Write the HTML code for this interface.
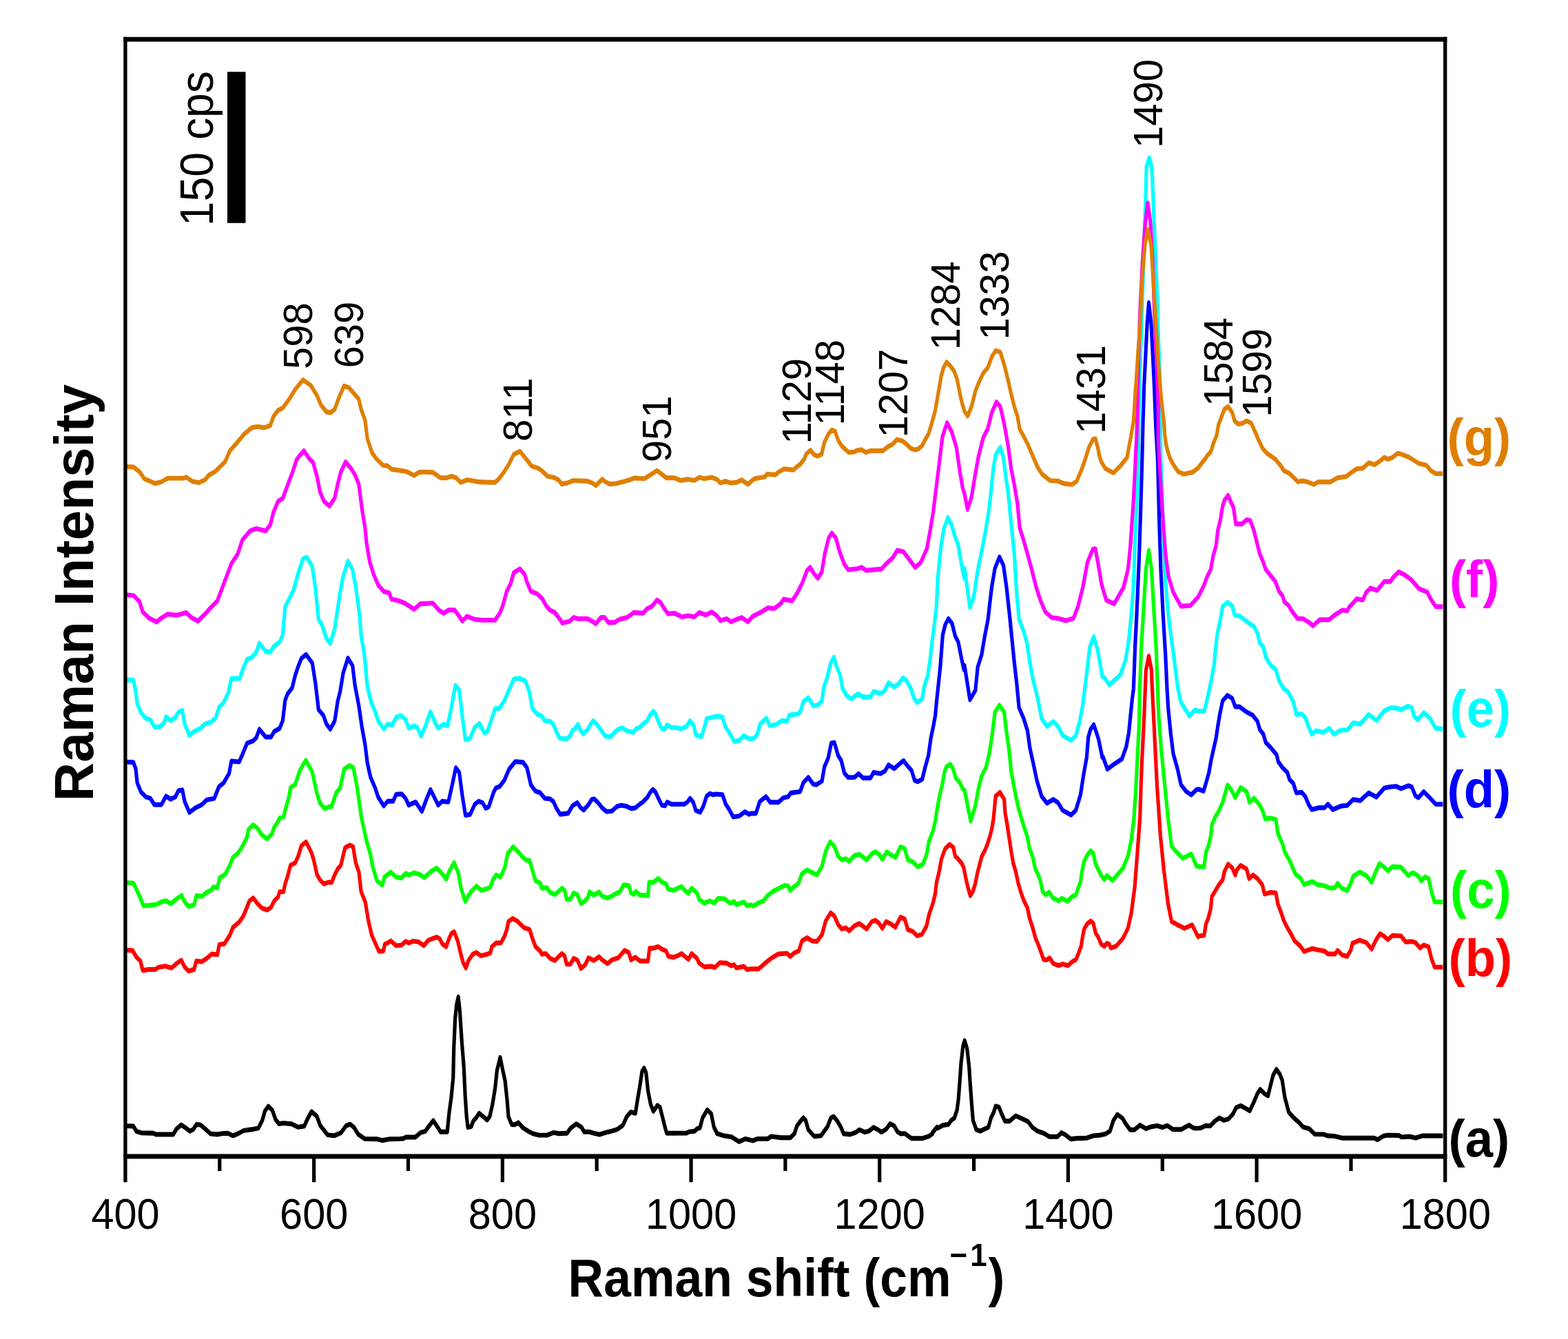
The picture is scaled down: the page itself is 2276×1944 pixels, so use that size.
<!DOCTYPE html><html><head><meta charset="utf-8"><style>html,body{margin:0;padding:0;background:#fff;}svg{display:block;}text{font-family:"Liberation Sans",Arial,sans-serif;}</style></head><body>
<svg width="2276" height="1944" viewBox="0 0 2276 1944">
<rect width="2276" height="1944" fill="#fff"/>
<g transform="scale(1,1.33)" fill="none" stroke-width="5.2" stroke-linejoin="round" stroke-linecap="butt">
<path d="M182.3,1229.02 L193.5,1229.32 L198.3,1235.11 L205.1,1236.62 L222.5,1237.07 L226.3,1238.35 L251.4,1238.35 L256.3,1232.26 L263.0,1227.89 L268.8,1230.83 L275.6,1234.74 L280.4,1232.93 L285.2,1227.44 L291.0,1227.89 L297.8,1232.26 L305.5,1237.59 L315.1,1238.35 L322.9,1237.29 L330.6,1237.07 L338.3,1239.77 L346.0,1237.29 L353.7,1234.14 L365.3,1232.93 L375.0,1231.50 L380.8,1222.78 L384.6,1212.63 L389.5,1207.59 L395.3,1211.95 L400.1,1222.11 L404.9,1226.69 L411.7,1226.02 L423.2,1226.84 L432.9,1230.38 L441.6,1229.32 L446.4,1221.35 L452.2,1213.38 L459.9,1218.42 L464.8,1228.65 L475.4,1238.80 L485.0,1239.77 L494.7,1236.62 L502.4,1228.87 L508.2,1227.14 L514.0,1230.83 L519.8,1238.05 L529.4,1243.16 L546.8,1243.38 L554.5,1244.89 L566.1,1243.38 L580.0,1243.16 L585.4,1242.86 L589.3,1241.35 L602.8,1241.35 L610.5,1236.32 L617.3,1234.89 L622.1,1229.77 L628.9,1223.23 L634.7,1229.77 L639.5,1235.56 L649.2,1235.56 L652.0,1214.51 L654.9,1198.57 L657.8,1176.77 L658.8,1143.38 L660.7,1111.50 L662.7,1096.99 L665.2,1088.27 L667.5,1104.21 L670.4,1137.59 L673.3,1165.19 L675.2,1195.64 L677.1,1217.44 L679.1,1230.53 L683.9,1229.77 L686.8,1223.98 L691.6,1219.62 L695.5,1215.26 L701.3,1218.87 L707.1,1222.56 L710.9,1218.87 L714.8,1205.79 L718.6,1188.42 L721.5,1168.12 L726.0,1154.29 L729.3,1166.62 L733.1,1179.70 L736.0,1200.00 L738.0,1218.87 L742.8,1227.59 L747.6,1227.59 L752.4,1225.41 L759.2,1231.20 L766.9,1234.89 L774.6,1237.74 L782.4,1239.17 L793.9,1239.17 L803.6,1236.32 L811.3,1237.44 L822.9,1236.99 L828.7,1231.20 L836.4,1226.84 L844.1,1230.53 L848.0,1235.56 L855.7,1235.56 L861.5,1236.99 L870.2,1238.50 L878.9,1236.32 L890.5,1234.14 L896.2,1232.71 L904.0,1228.35 L909.8,1218.87 L915.6,1213.83 L922.3,1215.26 L925.2,1201.43 L929.1,1184.06 L932.0,1169.55 L934.9,1165.94 L937.8,1170.98 L940.7,1191.28 L944.5,1205.79 L948.4,1213.08 L954.2,1206.54 L958.0,1208.72 L961.9,1220.30 L965.8,1231.95 L967.7,1236.84 L968.6,1236.99 L996.7,1236.84 L1000.5,1235.41 L1008.3,1234.74 L1012.1,1232.11 L1016.0,1231.05 L1019.8,1220.23 L1026.6,1211.50 L1032.4,1215.86 L1036.3,1230.38 L1041.1,1237.59 L1050.7,1239.77 L1062.3,1241.20 L1072.9,1246.32 L1081.6,1243.16 L1093.2,1245.19 L1099.0,1243.16 L1114.4,1243.16 L1119.3,1240.53 L1133.7,1241.95 L1147.3,1241.95 L1153.1,1237.59 L1156.9,1228.87 L1162.7,1223.08 L1166.2,1220.23 L1169.5,1223.08 L1173.3,1233.23 L1182.0,1240.53 L1191.7,1239.77 L1201.3,1229.62 L1206.1,1220.23 L1210.0,1218.72 L1214.8,1223.08 L1220.6,1230.38 L1224.5,1237.59 L1234.1,1238.35 L1241.9,1236.17 L1247.6,1233.23 L1255.4,1235.86 L1261.2,1234.74 L1267.9,1230.68 L1274.7,1233.23 L1279.5,1235.86 L1286.3,1232.56 L1292.0,1226.69 L1297.8,1228.87 L1302.7,1235.41 L1307.5,1237.59 L1313.3,1237.29 L1322.9,1242.71 L1338.4,1242.71 L1347.7,1240.53 L1348.0,1240.53 L1353.5,1237.59 L1353.8,1236.17 L1360.0,1230.38 L1361.2,1231.50 L1369.0,1228.20 L1376.7,1227.44 L1380.5,1223.08 L1385.4,1220.23 L1389.2,1211.50 L1391.2,1199.85 L1393.1,1180.98 L1395.0,1160.68 L1397.9,1141.80 L1400.2,1136.02 L1403.7,1144.74 L1406.6,1163.61 L1408.5,1185.34 L1410.5,1205.71 L1412.4,1223.08 L1417.2,1233.23 L1423.0,1234.74 L1428.8,1232.56 L1434.6,1230.68 L1438.5,1220.23 L1442.3,1214.36 L1445.2,1207.44 L1450.0,1208.57 L1453.9,1215.86 L1458.7,1223.83 L1465.5,1223.83 L1474.2,1218.05 L1482.9,1220.90 L1492.5,1224.51 L1498.3,1230.38 L1506.0,1234.74 L1515.7,1237.29 L1523.4,1240.83 L1535.0,1240.83 L1540.8,1236.47 L1546.6,1238.80 L1554.3,1243.38 L1562.0,1242.71 L1577.5,1242.26 L1587.1,1239.77 L1596.8,1239.10 L1604.5,1237.89 L1611.2,1234.74 L1616.1,1223.08 L1621.9,1216.54 L1629.6,1220.90 L1633.4,1226.02 L1640.2,1233.23 L1646.9,1233.23 L1654.7,1228.20 L1663.4,1232.11 L1670.1,1230.08 L1679.8,1228.87 L1687.5,1230.68 L1694.2,1228.65 L1702.9,1232.93 L1714.5,1232.93 L1720.3,1230.38 L1726.1,1228.20 L1726.6,1228.57 L1731.9,1231.05 L1735.1,1231.65 L1740.0,1231.50 L1742.6,1231.35 L1750.1,1228.80 L1756.7,1229.10 L1763.3,1223.91 L1769.9,1220.30 L1776.5,1222.86 L1783.1,1221.50 L1789.6,1216.09 L1794.3,1209.02 L1800.9,1206.92 L1807.5,1209.70 L1814.1,1212.56 L1819.8,1203.38 L1825.4,1193.46 L1829.2,1189.17 L1834.8,1193.46 L1840.5,1196.24 L1844.2,1184.96 L1848.0,1173.61 L1852.7,1167.29 L1857.4,1172.18 L1861.2,1179.32 L1864.9,1197.67 L1870.6,1213.98 L1878.1,1220.30 L1885.6,1225.26 L1891.3,1230.23 L1900.7,1232.33 L1908.2,1238.05 L1921.4,1238.27 L1927.0,1239.85 L1936.5,1240.15 L1947.7,1242.26 L1994.8,1242.26 L1999.5,1244.14 L2008.0,1240.15 L2013.6,1239.17 L2030.6,1239.47 L2034.3,1241.28 L2045.6,1240.60 L2055.0,1242.26 L2064.4,1239.85 L2094.5,1239.85" stroke="#000000"/>
<path d="M182.3,1037.07 L192.4,1037.59 L198.0,1044.74 L203.7,1048.95 L207.1,1059.17 L216.1,1058.27 L225.2,1058.27 L230.8,1055.71 L239.9,1054.59 L248.9,1056.62 L256.8,1051.50 L263.1,1048.12 L268.1,1055.71 L273.7,1060.00 L281.7,1058.27 L285.0,1048.95 L293.0,1049.77 L299.7,1046.39 L307.6,1041.35 L315.5,1042.18 L318.3,1031.13 L325.7,1030.30 L333.6,1020.90 L338.1,1012.41 L347.2,1006.47 L352.8,1000.53 L358.5,990.38 L361.9,983.53 L367.5,980.15 L374.3,986.92 L379.9,991.20 L387.8,993.38 L393.5,990.38 L398.0,983.53 L403.6,979.32 L405.9,973.38 L411.5,973.38 L413.8,964.89 L417.2,957.22 L421.7,944.51 L428.5,941.95 L433.0,934.29 L437.5,923.23 L444.3,919.02 L452.2,930.90 L455.6,939.40 L460.1,954.66 L464.6,960.60 L470.0,964.89 L476.2,963.16 L481.6,963.16 L485.4,955.64 L490.1,948.65 L494.7,944.59 L498.6,932.41 L500.9,925.41 L507.8,922.56 L512.5,924.29 L516.3,941.65 L521.0,952.11 L524.1,973.01 L530.2,984.66 L534.9,1005.56 L539.5,1020.68 L545.7,1031.13 L550.3,1038.65 L556.5,1038.05 L558.8,1030.53 L562.7,1029.32 L567.3,1027.07 L575.0,1032.26 L582.7,1031.65 L588.9,1027.59 L593.6,1029.32 L599.7,1027.37 L607.5,1028.20 L615.2,1032.26 L621.4,1026.47 L627.5,1024.74 L633.7,1022.93 L638.3,1024.74 L642.2,1030.53 L647.6,1033.38 L651.5,1025.26 L655.3,1018.87 L659.2,1017.14 L664.6,1027.59 L668.5,1040.38 L672.3,1050.83 L676.2,1056.62 L680.0,1048.50 L686.2,1041.58 L691.6,1039.77 L697.8,1043.31 L704.7,1042.11 L711.7,1040.38 L714.0,1033.38 L720.2,1029.32 L727.1,1029.32 L732.5,1021.80 L735.6,1014.81 L738.0,1006.09 L744.1,1002.63 L751.1,1005.56 L760.3,1012.48 L768.8,1014.81 L772.7,1024.14 L777.3,1033.38 L784.6,1038.65 L786.2,1041.50 L792.4,1040.90 L798.5,1046.17 L805.5,1048.50 L810.9,1044.44 L815.5,1040.90 L819.4,1043.23 L822.5,1052.56 L827.9,1052.56 L832.5,1046.17 L837.9,1047.89 L843.3,1057.22 L849.5,1053.16 L854.1,1045.56 L861.9,1048.50 L869.6,1044.44 L874.2,1047.89 L881.9,1051.95 L888.1,1047.89 L897.4,1045.56 L906.6,1037.44 L912.8,1039.77 L915.9,1047.89 L922.1,1044.96 L929.0,1049.10 L940.6,1049.10 L942.9,1035.11 L948.3,1035.11 L955.3,1033.38 L961.5,1036.32 L966.9,1038.05 L970.0,1043.83 L977.7,1044.96 L983.9,1043.23 L989.3,1040.90 L993.9,1043.83 L999.3,1047.29 L1003.9,1040.90 L1011.7,1046.17 L1014.8,1051.35 L1022.5,1055.41 L1031.7,1054.89 L1037.9,1056.02 L1044.9,1050.83 L1054.9,1051.35 L1061.1,1054.29 L1065.7,1053.16 L1068.8,1056.62 L1079.6,1054.89 L1084.2,1058.35 L1090.0,1057.67 L1100.8,1057.67 L1106.3,1054.29 L1113.5,1049.47 L1120.7,1045.41 L1129.8,1041.35 L1142.4,1040.68 L1147.0,1044.06 L1153.3,1040.00 L1159.6,1037.97 L1164.1,1027.07 L1171.4,1023.68 L1178.6,1027.07 L1185.8,1027.74 L1193.1,1020.30 L1198.5,1005.34 L1205.7,996.47 L1211.1,999.85 L1216.6,1009.40 L1222.0,1014.14 L1227.4,1012.78 L1232.8,1016.17 L1240.1,1010.75 L1247.3,1008.05 L1258.1,1014.14 L1265.4,1006.02 L1270.8,1004.66 L1276.2,1008.05 L1280.7,1013.46 L1286.2,1006.02 L1293.4,1008.72 L1299.7,1012.11 L1307.0,1001.20 L1313.3,1003.31 L1317.8,1014.81 L1325.0,1016.84 L1331.4,1021.65 L1338.6,1019.62 L1344.9,1010.75 L1348.5,998.50 L1354.0,986.32 L1357.6,975.41 L1359.4,963.16 L1363.0,952.33 L1366.6,937.37 L1372.0,926.47 L1378.4,921.73 L1383.8,925.11 L1386.5,934.66 L1390.0,936.92 L1395.9,942.41 L1398.8,946.84 L1401.7,957.89 L1404.7,967.82 L1408.4,977.74 L1412.0,973.38 L1415.7,964.51 L1418.6,953.46 L1421.6,944.66 L1425.2,934.74 L1429.7,928.05 L1433.3,921.43 L1437.0,912.63 L1439.9,903.76 L1442.1,893.83 L1445.2,869.17 L1451.5,864.96 L1457.6,872.63 L1459.0,887.22 L1462.0,900.45 L1464.9,914.81 L1467.8,929.17 L1470.8,942.41 L1474.4,951.28 L1478.1,964.51 L1482.5,975.56 L1486.9,984.36 L1491.3,990.98 L1494.3,1002.03 L1498.7,1012.03 L1503.1,1024.14 L1507.5,1031.88 L1511.2,1039.62 L1514.8,1047.37 L1519.2,1047.89 L1523.6,1045.64 L1528.8,1051.73 L1536.9,1053.98 L1542.7,1052.33 L1550.1,1053.98 L1556.0,1050.08 L1561.8,1047.37 L1565.5,1040.68 L1569.2,1033.01 L1571.4,1023.01 L1573.6,1014.21 L1578.0,1008.65 L1583.1,1005.34 L1586.8,1007.59 L1590.5,1018.65 L1594.1,1023.01 L1598.5,1030.75 L1603.0,1033.01 L1606.6,1029.70 L1610.0,1030.75 L1612.4,1034.81 L1619.8,1033.01 L1629.8,1024.59 L1637.2,1013.38 L1642.2,996.54 L1647.1,968.50 L1650.9,931.13 L1654.6,893.83 L1657.1,837.74 L1660.8,781.73 L1663.4,731.50 L1667.5,716.17 L1671.4,731.50 L1672.0,744.36 L1675.7,800.38 L1679.4,856.47 L1684.4,912.48 L1689.4,949.85 L1695.6,987.22 L1700.6,1005.86 L1709.3,1009.62 L1719.2,1013.38 L1730.4,1009.62 L1739.1,1022.71 L1740.0,1021.73 L1747.8,1021.13 L1750.4,1008.72 L1753.9,1002.18 L1757.4,991.73 L1759.1,978.65 L1764.3,972.11 L1769.5,965.56 L1774.7,960.38 L1777.4,951.20 L1782.6,943.38 L1788.6,947.29 L1793.0,955.11 L1795.6,949.25 L1800.8,944.66 L1809.5,948.65 L1813.0,959.02 L1819.0,955.11 L1825.1,959.02 L1832.1,965.56 L1835.6,976.02 L1844.2,974.06 L1852.1,974.74 L1854.7,986.47 L1859.9,996.92 L1863.4,1004.81 L1868.6,1012.63 L1873.8,1019.17 L1879.0,1026.99 L1886.8,1032.18 L1892.9,1038.72 L1905.0,1035.49 L1912.0,1036.77 L1922.4,1038.12 L1927.6,1041.35 L1938.1,1041.35 L1941.5,1037.44 L1948.5,1042.63 L1955.4,1043.98 L1960.6,1037.44 L1963.2,1029.62 L1973.7,1026.32 L1983.2,1028.95 L1991.0,1036.09 L1997.1,1026.32 L2003.2,1019.17 L2008.4,1021.73 L2014.5,1025.71 L2021.4,1021.13 L2033.6,1021.73 L2040.6,1028.27 L2049.2,1027.67 L2054.5,1028.95 L2061.4,1034.81 L2066.6,1031.58 L2073.6,1033.53 L2077.9,1046.62 L2082.3,1055.71 L2094.4,1055.71" stroke="#FF0000"/>
<path d="M182.3,963.53 L193.6,964.06 L198.0,970.83 L203.7,980.15 L208.2,988.65 L216.1,988.35 L227.4,987.29 L234.2,984.44 L241.0,983.23 L247.8,986.62 L256.8,980.98 L263.6,977.59 L268.1,984.44 L273.7,989.47 L281.7,987.82 L285.0,977.59 L293.0,978.50 L299.7,974.21 L306.5,971.65 L309.9,968.27 L315.5,969.17 L318.9,958.05 L326.8,954.66 L333.6,944.51 L338.1,936.02 L344.9,931.73 L351.7,924.14 L358.5,913.91 L360.7,905.41 L367.5,900.30 L374.3,904.59 L379.9,911.35 L387.8,915.64 L394.6,910.53 L398.0,902.86 L403.6,896.92 L405.9,892.71 L411.5,891.80 L415.0,881.65 L419.5,869.77 L421.7,859.70 L428.5,856.32 L435.3,840.98 L443.8,829.92 L453.3,842.71 L460.1,866.47 L464.6,876.69 L471.4,882.63 L480.0,880.08 L481.3,880.60 L488.1,865.26 L493.7,860.23 L499.4,839.85 L507.3,835.56 L512.9,838.12 L518.6,860.23 L524.2,890.75 L531.0,914.59 L531.8,917.29 L538.0,933.53 L541.0,946.32 L547.2,961.43 L554.9,966.09 L558.0,957.37 L567.3,952.11 L575.0,957.37 L582.7,958.50 L588.9,953.31 L593.6,955.04 L601.3,952.71 L609.0,954.44 L616.0,957.97 L626.0,950.98 L633.7,947.52 L639.9,952.11 L647.6,959.70 L652.2,950.98 L659.2,941.65 L665.4,953.31 L669.2,969.55 L675.4,984.06 L678.5,979.40 L684.7,972.48 L691.6,967.22 L698.6,971.88 L704.7,970.68 L711.7,968.42 L715.6,960.23 L720.2,955.04 L726.4,957.37 L732.5,947.52 L737.2,931.20 L744.9,924.29 L752.6,930.08 L758.8,935.86 L763.4,938.80 L768.8,939.32 L772.7,949.77 L777.3,961.43 L784.6,964.29 L786.2,969.55 L793.9,968.95 L798.5,974.14 L805.5,976.47 L810.9,973.01 L815.5,969.55 L819.4,971.80 L822.5,981.73 L827.9,981.73 L832.5,974.74 L837.9,976.47 L843.3,986.39 L848.0,984.06 L853.4,980.00 L855.7,973.61 L861.9,977.07 L869.6,973.61 L874.2,978.20 L881.9,980.30 L888.1,978.20 L894.3,975.34 L899.7,973.61 L905.1,966.02 L912.8,966.62 L915.9,974.74 L919.8,976.47 L922.9,973.01 L929.0,977.07 L940.6,977.67 L942.2,963.16 L948.3,963.16 L955.3,959.10 L961.5,963.16 L966.9,964.89 L970.0,970.68 L977.7,971.80 L983.9,969.55 L989.3,967.74 L993.9,971.80 L999.3,975.34 L1003.9,969.55 L1011.7,974.74 L1014.8,981.73 L1022.5,985.79 L1030.2,983.46 L1036.4,985.79 L1042.5,980.53 L1051.8,981.13 L1059.5,985.79 L1065.7,984.06 L1068.8,987.52 L1079.6,984.59 L1084.2,988.65 L1090.0,987.67 L1093.6,989.02 L1100.8,985.64 L1108.1,983.53 L1113.5,978.12 L1122.5,972.71 L1131.6,969.32 L1138.8,966.54 L1144.2,967.22 L1147.0,972.03 L1152.4,967.97 L1158.7,964.51 L1164.1,953.68 L1171.4,949.55 L1178.6,952.33 L1185.8,955.04 L1193.1,945.49 L1198.5,929.17 L1204.8,919.02 L1211.1,923.76 L1216.6,934.66 L1222.0,938.72 L1227.4,937.37 L1232.8,940.08 L1240.1,933.98 L1247.3,932.56 L1258.1,938.72 L1265.4,931.88 L1270.8,929.85 L1276.2,932.56 L1280.7,938.05 L1287.1,929.85 L1293.4,933.23 L1299.7,936.02 L1307.0,924.44 L1313.3,926.47 L1317.8,938.72 L1325.0,940.75 L1332.3,946.17 L1339.5,943.46 L1344.9,933.23 L1348.5,918.35 L1354.0,907.44 L1357.6,896.54 L1361.2,878.87 L1364.8,865.26 L1367.5,857.14 L1371.1,842.48 L1373.8,836.99 L1379.3,834.29 L1382.9,838.35 L1387.4,849.25 L1393.7,854.66 L1397.4,861.20 L1400.0,862.41 L1409.0,896.39 L1415.8,879.40 L1420.3,860.68 L1424.9,847.14 L1431.6,836.92 L1436.2,821.65 L1440.7,799.55 L1444.1,777.44 L1450.8,769.77 L1457.6,777.44 L1461.0,799.55 L1464.4,816.54 L1467.8,842.03 L1472.3,860.68 L1478.0,881.13 L1480.3,887.22 L1485.5,900.45 L1491.3,913.68 L1494.3,925.86 L1498.7,934.74 L1503.1,949.02 L1507.5,955.71 L1510.4,962.33 L1513.4,973.38 L1517.8,976.69 L1522.9,973.91 L1528.0,980.00 L1536.9,983.31 L1541.3,980.53 L1549.3,983.83 L1556.0,978.87 L1561.8,976.69 L1564.8,970.00 L1568.4,962.33 L1570.6,951.28 L1573.6,940.23 L1578.0,933.61 L1583.1,928.65 L1586.8,931.35 L1590.5,943.53 L1594.1,949.02 L1598.5,955.71 L1603.0,960.08 L1606.6,955.71 L1610.0,957.89 L1614.8,961.05 L1629.8,947.97 L1637.2,934.89 L1642.2,916.24 L1645.9,893.83 L1648.4,865.79 L1650.9,828.42 L1653.4,791.05 L1654.4,751.88 L1656.7,706.02 L1660.1,663.53 L1663.4,621.05 L1667.5,600.68 L1671.4,621.05 L1674.7,663.53 L1678.1,706.02 L1680.4,751.88 L1681.9,781.73 L1685.7,819.10 L1690.6,856.47 L1695.6,893.83 L1700.6,923.68 L1706.8,929.32 L1716.7,936.77 L1729.1,932.11 L1736.6,945.19 L1740.0,946.02 L1747.8,946.02 L1750.4,930.30 L1753.9,923.76 L1757.4,913.31 L1759.1,900.30 L1764.3,891.13 L1767.8,887.22 L1774.7,875.94 L1781.7,856.99 L1786.9,861.58 L1793.0,870.75 L1800.8,859.62 L1809.5,864.21 L1813.8,875.94 L1819.9,871.35 L1826.9,877.22 L1832.1,883.76 L1833.8,887.22 L1836.4,893.76 L1844.2,893.08 L1852.1,894.44 L1854.7,909.40 L1861.6,921.20 L1865.1,930.30 L1872.0,939.47 L1877.2,948.65 L1880.7,954.51 L1887.7,958.42 L1892.9,965.56 L1905.0,962.33 L1912.0,965.56 L1922.4,966.92 L1931.1,969.55 L1938.1,968.87 L1941.5,964.29 L1948.5,970.15 L1955.4,972.11 L1960.6,964.29 L1964.1,956.47 L1973.7,951.88 L1983.2,955.79 L1991.0,963.01 L1997.1,951.20 L2002.3,942.71 L2008.4,946.02 L2014.5,950.60 L2021.4,946.02 L2033.6,946.62 L2038.8,951.20 L2044.0,955.79 L2051.0,952.56 L2057.9,955.79 L2063.1,961.65 L2068.4,957.07 L2073.6,959.02 L2077.9,973.46 L2082.3,984.51 L2094.4,984.51" stroke="#00FF00"/>
<path d="M182.3,831.65 L193.6,832.18 L197.0,839.32 L199.2,854.59 L204.8,864.74 L211.6,869.92 L218.4,871.58 L224.0,878.35 L234.2,878.35 L241.0,869.02 L247.8,872.41 L254.5,869.92 L259.0,863.08 L264.7,862.26 L268.1,874.96 L274.9,886.84 L283.9,881.73 L293.0,878.35 L299.7,873.23 L311.0,871.58 L317.8,858.80 L324.6,854.59 L332.5,844.36 L335.9,830.83 L347.2,831.65 L351.7,824.06 L358.5,811.28 L367.5,808.72 L372.0,805.26 L376.5,796.02 L385.6,804.51 L393.5,804.51 L398.0,798.50 L405.9,795.11 L410.4,786.62 L413.8,764.59 L417.2,757.74 L424.0,750.98 L428.5,737.37 L433.0,727.22 L437.5,718.72 L444.3,714.44 L453.3,723.76 L457.9,745.86 L462.4,774.74 L469.2,780.68 L473.7,790.08 L479.0,795.64 L479.3,796.02 L485.8,787.14 L490.3,765.04 L493.7,754.89 L498.2,734.44 L505.0,718.35 L511.8,726.84 L515.2,748.05 L520.8,770.15 L525.4,793.91 L529.9,812.63 L533.3,833.01 L537.8,848.27 L544.6,860.23 L549.1,870.38 L557.0,879.70 L562.7,874.66 L570.6,874.66 L575.1,866.99 L583.0,866.69 L588.6,871.28 L593.2,878.87 L603.3,875.49 L612.4,885.71 L619.2,872.11 L624.8,861.88 L630.5,870.38 L636.1,878.87 L641.8,874.66 L650.8,875.49 L656.4,856.77 L661.6,838.12 L666.6,843.23 L671.1,868.72 L675.6,889.92 L682.4,889.10 L689.2,878.05 L694.9,874.66 L700.5,876.32 L705.0,882.26 L709.5,880.60 L716.3,865.26 L719.7,860.23 L725.4,858.50 L732.1,851.73 L738.9,839.77 L748.0,831.28 L759.3,832.18 L764.9,838.12 L770.6,856.77 L777.3,863.61 L784.1,865.26 L786.2,867.44 L790.8,871.50 L798.5,872.11 L803.2,874.96 L807.8,882.56 L813.2,888.95 L824.8,887.74 L831.0,879.62 L837.9,876.17 L842.5,881.35 L847.2,884.29 L854.1,878.50 L858.8,872.71 L862.6,872.11 L868.0,876.17 L874.2,881.95 L880.4,886.02 L888.1,885.41 L895.8,880.23 L902.0,879.02 L909.7,880.23 L915.9,882.56 L922.1,881.95 L926.7,879.02 L932.9,875.56 L939.1,870.90 L943.7,865.11 L947.6,861.65 L951.4,864.51 L956.1,872.11 L960.7,879.02 L965.3,879.62 L968.4,875.56 L974.6,877.89 L993.1,877.89 L997.8,875.56 L1001.6,871.50 L1006.2,875.56 L1010.1,884.89 L1016.3,886.62 L1020.9,880.23 L1025.6,869.17 L1030.2,866.32 L1034.8,867.44 L1039.5,866.84 L1048.7,867.44 L1053.4,877.89 L1058.0,883.16 L1064.2,891.80 L1073.4,890.68 L1081.2,886.02 L1087.3,888.95 L1090.0,887.97 L1097.2,887.97 L1102.7,875.11 L1111.7,869.62 L1118.0,875.79 L1129.8,875.79 L1137.0,870.98 L1144.2,869.62 L1147.9,865.56 L1161.4,864.21 L1165.9,854.66 L1173.2,848.57 L1180.4,856.02 L1184.9,856.69 L1193.1,852.63 L1196.7,836.99 L1202.1,827.52 L1206.6,811.20 L1211.1,810.53 L1216.6,824.81 L1221.1,830.23 L1225.6,843.83 L1231.0,848.57 L1240.1,848.57 L1246.4,844.51 L1252.7,849.25 L1263.6,849.25 L1268.1,843.16 L1278.0,844.51 L1284.4,841.80 L1289.8,834.96 L1297.9,839.02 L1305.1,834.29 L1311.5,830.23 L1316.9,835.64 L1323.2,841.13 L1327.7,851.95 L1332.3,853.31 L1338.6,850.60 L1343.1,836.99 L1347.6,824.81 L1351.2,805.71 L1354.9,792.18 L1357.6,781.28 L1359.4,766.32 L1362.1,747.29 L1364.8,728.27 L1366.6,710.60 L1368.4,692.93 L1372.0,682.03 L1376.6,675.26 L1382.0,680.68 L1386.5,694.29 L1391.0,701.05 L1395.6,718.72 L1399.2,730.98 L1400.0,726.47 L1407.9,763.83 L1415.8,753.68 L1419.2,728.20 L1424.9,714.59 L1429.4,694.21 L1433.9,677.22 L1437.3,655.11 L1439.5,640.98 L1444.1,620.60 L1450.8,607.89 L1456.5,617.22 L1461.0,640.98 L1465.5,672.11 L1468.9,697.59 L1472.3,723.08 L1475.7,745.19 L1479.1,772.33 L1485.9,784.29 L1491.5,797.82 L1494.9,816.54 L1499.4,831.80 L1505.1,852.18 L1511.9,869.17 L1519.8,876.84 L1528.8,872.63 L1535.6,876.02 L1542.4,884.51 L1554.8,889.62 L1561.6,884.51 L1568.4,867.52 L1572.9,845.41 L1577.4,826.69 L1579.7,804.66 L1583.0,796.17 L1587.6,791.05 L1594.4,806.32 L1600.0,826.69 L1601.2,826.54 L1607.4,839.62 L1617.3,834.06 L1628.5,828.42 L1634.7,815.34 L1638.4,800.38 L1640.9,781.73 L1643.4,763.01 L1645.4,751.88 L1647.6,706.02 L1649.9,672.03 L1653.3,612.56 L1655.5,561.58 L1657.8,502.11 L1658.9,466.17 L1660.7,420.60 L1663.0,386.54 L1665.2,352.56 L1667.5,330.45 L1670.9,352.56 L1673.2,386.54 L1675.4,420.60 L1677.7,466.17 L1680.4,502.11 L1682.7,570.08 L1684.9,621.05 L1688.3,672.03 L1691.7,714.51 L1694.0,751.88 L1695.6,772.41 L1699.3,800.38 L1703.0,822.78 L1709.3,839.62 L1714.2,856.47 L1721.7,863.91 L1729.1,867.67 L1736.6,862.03 L1740.0,861.58 L1747.0,863.53 L1750.4,855.04 L1754.8,843.31 L1758.2,828.95 L1761.7,817.14 L1765.2,805.41 L1767.8,792.33 L1770.4,780.60 L1774.7,764.89 L1781.7,759.02 L1788.6,762.33 L1793.0,771.43 L1799.1,771.43 L1809.5,777.29 L1818.2,780.60 L1825.1,787.14 L1828.6,796.24 L1833.8,801.50 L1837.3,810.60 L1844.2,815.86 L1852.9,823.68 L1855.5,831.50 L1861.6,838.05 L1868.6,843.31 L1872.0,851.13 L1877.2,855.04 L1881.6,865.49 L1889.4,864.81 L1894.6,869.40 L1899.8,878.57 L1904.2,883.76 L1913.7,881.80 L1922.4,881.80 L1927.6,877.89 L1934.6,883.76 L1946.7,879.85 L1955.4,879.25 L1964.1,872.71 L1974.5,873.98 L1986.7,865.49 L1998.0,870.08 L2009.3,860.30 L2018.0,858.95 L2026.6,858.35 L2033.6,860.90 L2044.0,857.67 L2049.2,858.95 L2054.5,868.72 L2058.8,870.75 L2066.6,864.21 L2075.3,870.75 L2084.0,877.89 L2094.4,877.89" stroke="#0000FF"/>
<path d="M182.3,742.11 L193.6,742.48 L197.0,754.36 L199.2,767.97 L204.8,778.20 L211.6,784.14 L218.4,785.71 L224.0,793.46 L232.0,793.46 L238.7,788.35 L241.0,782.41 L247.8,786.62 L254.5,783.23 L259.0,777.29 L264.7,775.56 L268.1,790.08 L274.9,802.78 L281.7,798.50 L290.7,795.11 L297.5,790.08 L306.5,788.35 L313.3,783.23 L317.8,772.18 L324.6,767.14 L331.4,756.09 L335.9,740.75 L348.3,740.45 L351.7,732.33 L358.5,719.55 L365.2,717.82 L372.0,711.88 L376.5,702.03 L385.6,711.05 L392.4,711.88 L398.0,705.11 L405.9,700.90 L410.4,693.23 L413.8,662.63 L419.5,654.14 L426.2,643.98 L433.0,625.26 L439.8,610.00 L445.4,608.27 L453.3,618.50 L457.9,642.26 L462.4,676.24 L466.9,681.35 L473.7,696.62 L479.3,702.56 L485.8,686.39 L491.5,657.52 L497.1,632.03 L505.0,612.48 L511.8,621.80 L516.3,640.53 L522.0,671.05 L524.2,693.68 L528.8,714.06 L533.3,749.77 L538.9,766.77 L544.6,776.92 L549.1,787.14 L557.0,795.64 L562.7,790.53 L569.4,791.35 L575.1,782.86 L581.9,781.20 L588.6,785.41 L593.2,794.81 L601.1,792.26 L605.6,793.91 L611.2,803.31 L616.9,793.91 L624.8,776.92 L631.6,788.87 L636.1,794.81 L644.0,790.53 L649.7,792.26 L655.3,771.88 L661.0,748.05 L666.6,753.16 L671.1,782.03 L675.6,807.52 L682.4,805.86 L689.2,793.91 L696.0,789.70 L702.8,799.85 L707.3,799.02 L714.1,783.76 L718.6,773.53 L724.2,773.53 L732.1,765.04 L738.9,753.16 L745.7,741.28 L754.7,740.38 L762.7,743.83 L768.3,754.89 L772.8,773.53 L779.6,779.47 L786.2,781.50 L790.8,786.77 L798.5,787.29 L803.2,790.83 L807.8,798.95 L812.4,805.94 L823.2,806.47 L827.9,803.01 L831.0,797.22 L834.8,795.49 L838.7,790.83 L843.3,797.74 L846.4,801.28 L852.6,796.62 L857.2,790.83 L861.1,786.77 L866.5,790.83 L872.7,797.22 L878.8,803.61 L886.6,804.14 L892.7,798.95 L897.4,796.02 L903.6,794.51 L909.7,797.74 L919.0,799.55 L923.6,795.49 L929.8,793.16 L934.4,789.62 L939.1,787.29 L943.7,780.38 L948.3,776.32 L951.4,779.17 L956.1,788.50 L960.7,795.49 L964.6,796.02 L968.4,791.35 L974.6,794.29 L980.8,794.29 L988.5,795.49 L996.2,793.16 L1001.6,786.77 L1007.0,791.95 L1010.1,802.41 L1017.8,804.14 L1022.5,794.29 L1025.6,784.44 L1033.3,783.23 L1041.0,781.73 L1048.7,782.71 L1053.4,794.29 L1058.0,798.95 L1065.7,809.40 L1073.4,808.20 L1079.6,803.01 L1087.3,806.47 L1090.0,806.39 L1095.4,805.71 L1099.0,801.65 L1103.6,790.15 L1112.6,783.98 L1117.1,792.18 L1126.2,790.83 L1135.2,786.69 L1142.4,787.37 L1146.0,780.60 L1158.7,779.25 L1162.3,775.86 L1165.9,766.32 L1173.2,761.58 L1180.4,770.38 L1187.6,769.70 L1193.1,764.96 L1195.8,750.00 L1200.3,740.53 L1205.7,724.21 L1210.2,717.37 L1214.7,728.27 L1219.3,736.39 L1222.9,751.35 L1229.2,759.55 L1235.5,762.93 L1245.5,757.52 L1252.7,760.90 L1263.6,760.90 L1268.1,754.74 L1278.0,756.84 L1283.5,754.74 L1289.8,745.26 L1297.9,750.00 L1304.2,746.62 L1310.6,739.85 L1316.0,743.23 L1322.3,752.03 L1326.8,762.26 L1331.4,766.99 L1338.6,762.93 L1341.3,750.00 L1346.7,737.74 L1350.3,718.72 L1353.1,699.70 L1356.7,679.32 L1359.4,661.65 L1361.2,631.20 L1365.7,597.29 L1370.2,576.84 L1375.9,564.96 L1381.5,573.46 L1386.0,585.34 L1390.6,593.83 L1395.1,614.21 L1399.6,631.20 L1400.0,620.60 L1407.9,663.08 L1413.6,651.20 L1419.2,622.33 L1424.9,601.95 L1430.5,579.85 L1435.0,559.47 L1438.4,537.37 L1441.8,511.88 L1445.2,496.62 L1452.0,488.12 L1456.5,500.00 L1459.9,520.38 L1463.3,537.37 L1467.8,571.35 L1472.3,605.34 L1475.7,646.62 L1479.1,675.49 L1485.9,689.10 L1490.4,700.98 L1494.9,723.08 L1499.4,741.80 L1506.2,762.18 L1511.9,784.29 L1519.8,792.78 L1528.8,787.67 L1535.6,792.78 L1542.4,802.93 L1554.8,808.05 L1561.6,802.93 L1567.2,787.67 L1571.8,768.95 L1575.1,748.57 L1578.5,728.20 L1581.9,706.09 L1587.6,695.04 L1593.2,709.47 L1600.0,738.35 L1603.6,740.00 L1610.3,747.67 L1626.2,736.62 L1634.1,719.62 L1638.6,697.52 L1642.0,672.03 L1645.4,638.05 L1647.6,587.07 L1649.9,553.08 L1652.1,502.11 L1653.9,420.60 L1656.2,369.55 L1658.5,318.50 L1660.7,267.44 L1663.0,216.47 L1664.1,182.41 L1668.2,172.18 L1672.0,182.41 L1674.3,224.96 L1676.6,267.44 L1679.3,318.50 L1681.5,369.55 L1683.8,420.60 L1684.9,502.11 L1688.3,570.08 L1690.6,621.05 L1694.0,655.04 L1697.3,680.53 L1701.9,706.02 L1706.4,731.50 L1709.8,751.88 L1714.2,766.77 L1726.6,781.73 L1734.1,775.19 L1740.0,776.02 L1747.8,776.69 L1752.2,763.61 L1755.6,751.88 L1759.1,738.80 L1762.6,724.44 L1764.3,709.17 L1766.9,692.18 L1770.4,680.45 L1774.7,662.18 L1781.7,657.59 L1788.6,661.50 L1792.1,671.28 L1799.9,672.63 L1809.5,678.50 L1819.9,683.68 L1825.1,690.90 L1828.6,701.35 L1833.8,706.54 L1837.3,716.99 L1840.8,721.80 L1846.0,727.67 L1852.1,730.98 L1856.4,742.71 L1863.4,751.88 L1869.4,755.11 L1877.2,765.56 L1881.6,779.92 L1889.4,779.25 L1894.6,783.23 L1899.8,793.68 L1904.2,801.50 L1910.3,797.59 L1920.7,799.55 L1929.4,794.96 L1936.3,801.50 L1946.7,796.92 L1955.4,796.92 L1964.1,789.10 L1974.5,790.38 L1986.7,779.92 L1998.0,786.47 L2009.3,776.02 L2018.0,772.78 L2026.6,772.78 L2033.6,774.74 L2044.0,770.75 L2049.2,772.78 L2052.7,781.88 L2057.9,785.79 L2066.6,777.97 L2075.3,783.83 L2084.0,794.96 L2094.4,795.64" stroke="#00FFFF"/>
<path d="M182.3,649.17 L193.6,650.08 L202.6,656.84 L207.1,667.89 L216.1,674.66 L227.4,678.95 L234.2,674.66 L243.3,670.38 L256.8,671.58 L270.4,668.72 L277.1,673.76 L287.3,678.05 L297.5,670.38 L306.5,662.71 L315.5,655.94 L322.3,642.33 L329.1,628.80 L335.9,615.19 L344.9,604.96 L351.7,589.70 L363.0,579.55 L372.0,576.99 L385.6,579.55 L392.4,572.78 L396.9,559.17 L403.6,547.29 L410.4,543.91 L417.2,530.30 L424.0,516.69 L430.8,501.35 L441.0,492.03 L448.8,500.53 L454.5,504.81 L460.1,520.08 L464.6,537.07 L470.3,547.29 L478.2,552.41 L485.8,543.61 L490.3,528.35 L494.9,514.74 L501.6,504.21 L509.5,511.35 L515.2,518.20 L520.8,528.35 L525.4,555.56 L529.9,575.94 L532.1,592.93 L536.7,613.31 L542.3,626.92 L549.1,638.80 L557.0,645.56 L564.9,647.29 L568.3,654.06 L578.5,655.79 L587.5,658.35 L601.1,665.11 L610.1,659.17 L628.2,658.35 L637.2,666.02 L644.0,669.40 L650.8,666.02 L659.8,666.02 L666.6,672.78 L671.1,677.89 L677.9,672.78 L689.2,676.17 L700.5,676.99 L718.6,676.99 L725.4,669.40 L729.9,660.90 L735.5,645.56 L741.2,637.07 L745.7,625.19 L754.7,620.98 L761.5,626.92 L764.9,635.41 L770.6,645.56 L779.6,648.12 L787.2,653.68 L792.7,661.13 L798.1,665.94 L805.3,668.65 L813.4,676.77 L816.2,680.15 L827.0,678.12 L832.4,674.06 L839.7,675.41 L852.3,675.41 L859.6,678.12 L865.0,680.90 L872.2,674.06 L877.6,674.06 L883.1,679.47 L892.1,679.47 L899.3,676.09 L910.2,674.06 L920.1,668.65 L933.7,669.32 L939.1,664.59 L946.3,661.80 L953.6,655.04 L959.0,657.74 L964.4,664.59 L969.8,670.00 L978.9,669.32 L989.7,673.38 L998.8,672.03 L1007.8,673.38 L1015.0,668.65 L1024.1,671.35 L1033.1,667.97 L1040.3,672.03 L1045.8,677.44 L1054.8,675.41 L1061.1,678.80 L1069.3,676.09 L1076.5,674.06 L1085.6,678.80 L1092.8,672.71 L1096.8,671.20 L1103.6,668.65 L1114.9,663.53 L1123.9,664.36 L1132.9,659.25 L1137.5,654.14 L1149.9,655.86 L1157.8,646.54 L1164.6,636.32 L1171.4,622.71 L1175.9,619.32 L1181.5,626.17 L1187.2,631.20 L1192.8,624.44 L1197.3,604.06 L1203.0,587.07 L1207.5,581.95 L1213.2,587.07 L1218.8,602.33 L1225.6,615.94 L1231.2,621.88 L1243.7,621.05 L1250.5,619.32 L1257.2,622.71 L1279.8,621.05 L1286.6,615.11 L1295.6,609.17 L1302.4,600.68 L1311.5,602.33 L1318.2,609.17 L1328.4,619.32 L1336.3,614.29 L1345.4,598.95 L1349.9,580.30 L1354.4,559.85 L1358.9,532.71 L1363.4,505.49 L1368.0,476.62 L1374.7,461.35 L1381.5,471.50 L1388.3,488.50 L1392.8,512.33 L1397.3,532.71 L1400.0,539.10 L1404.5,556.02 L1410.2,542.48 L1415.8,516.99 L1420.3,498.27 L1427.1,477.89 L1433.9,467.67 L1439.5,450.68 L1446.3,438.80 L1452.0,443.91 L1457.6,462.63 L1463.3,486.39 L1467.8,511.88 L1472.3,528.87 L1476.8,549.25 L1480.2,576.47 L1485.9,590.00 L1490.4,601.95 L1497.2,620.60 L1504.0,640.98 L1510.7,656.32 L1517.5,668.20 L1526.6,674.14 L1535.6,674.96 L1546.9,677.52 L1558.2,674.96 L1565.0,661.43 L1571.8,640.98 L1578.5,613.83 L1586.4,599.40 L1590.0,598.95 L1594.5,617.67 L1599.0,638.05 L1605.8,655.04 L1617.1,659.25 L1630.7,641.43 L1637.5,621.05 L1640.8,595.56 L1643.1,570.08 L1645.4,544.59 L1647.6,510.60 L1649.9,476.62 L1651.0,451.13 L1652.8,386.54 L1655.1,335.49 L1658.5,284.51 L1661.9,247.07 L1665.9,221.58 L1669.8,241.95 L1673.2,284.51 L1675.4,335.49 L1678.4,386.54 L1681.1,437.59 L1681.5,485.11 L1684.9,527.59 L1688.3,570.08 L1691.7,604.06 L1696.2,629.55 L1703.0,646.54 L1714.3,661.80 L1727.9,660.98 L1739.2,651.65 L1747.0,639.92 L1752.2,629.47 L1757.4,621.65 L1760.8,607.29 L1765.2,595.56 L1767.8,578.57 L1771.3,568.12 L1774.7,552.41 L1777.4,545.94 L1782.6,540.68 L1786.9,548.50 L1790.4,553.76 L1793.9,572.03 L1802.5,572.03 L1809.5,567.44 L1814.7,568.12 L1819.9,578.57 L1825.1,594.21 L1828.6,604.66 L1833.8,613.83 L1837.3,621.65 L1844.2,628.20 L1851.2,634.74 L1856.4,645.19 L1861.6,650.38 L1864.2,656.92 L1870.3,660.83 L1875.5,667.37 L1883.3,675.26 L1891.1,675.26 L1899.8,679.17 L1905.9,683.08 L1915.5,676.54 L1929.4,676.54 L1936.3,671.95 L1948.5,666.09 L1955.4,666.77 L1958.9,662.18 L1964.1,658.27 L1969.3,653.68 L1978.0,654.96 L1983.2,646.47 L1989.3,641.95 L1998.9,644.51 L2009.3,634.74 L2018.0,634.74 L2023.2,629.47 L2030.1,624.29 L2038.8,627.52 L2047.5,632.11 L2059.7,642.56 L2071.8,646.47 L2077.0,654.36 L2084.0,662.18 L2094.4,662.18" stroke="#FF00FF"/>
<path d="M182.3,509.40 L193.6,509.77 L202.6,515.04 L209.4,522.56 L225.2,527.82 L234.2,526.02 L243.3,522.11 L265.8,522.11 L270.4,520.90 L279.4,525.56 L288.4,526.84 L297.5,523.83 L303.0,518.80 L313.3,514.14 L326.8,503.91 L333.6,492.03 L342.6,484.44 L354.0,474.21 L365.2,466.92 L374.3,465.71 L383.3,466.92 L392.4,464.36 L396.9,454.66 L403.6,447.89 L410.4,445.34 L419.5,436.02 L428.5,424.96 L439.8,414.74 L451.1,420.68 L460.1,431.73 L465.8,441.95 L473.7,449.62 L480.0,450.38 L485.8,446.77 L491.5,434.89 L499.4,421.28 L506.2,423.01 L515.2,430.68 L520.8,435.71 L524.2,446.77 L529.9,458.72 L533.3,479.10 L540.1,494.36 L546.8,501.20 L555.9,507.97 L562.7,508.50 L568.3,512.18 L578.5,513.38 L589.8,514.74 L601.1,519.02 L607.9,515.64 L614.6,515.11 L628.2,515.64 L639.5,521.58 L648.5,521.58 L655.3,519.85 L662.1,521.58 L668.9,526.69 L677.9,523.76 L686.9,524.96 L696.0,526.17 L718.6,526.69 L725.4,521.58 L732.1,514.74 L738.9,506.24 L745.7,496.09 L754.7,492.71 L763.8,501.20 L771.7,508.80 L781.9,511.35 L787.2,514.36 L794.5,519.77 L803.5,521.13 L810.7,523.83 L815.3,528.35 L823.4,527.22 L832.4,524.51 L852.3,525.19 L859.6,527.22 L865.0,530.00 L869.5,526.54 L874.0,523.16 L878.5,525.86 L884.9,528.35 L893.9,527.89 L904.8,525.86 L913.8,523.83 L921.0,521.80 L935.5,522.48 L942.7,519.10 L953.6,513.68 L960.8,517.74 L967.1,521.58 L978.9,521.58 L987.9,524.51 L998.8,523.16 L1007.8,524.51 L1015.0,521.13 L1022.3,522.48 L1033.1,521.13 L1040.3,523.16 L1045.8,527.22 L1053.0,525.19 L1060.2,527.22 L1069.3,526.54 L1076.5,523.83 L1085.6,528.65 L1092.8,523.83 L1096.2,522.33 L1110.1,520.60 L1113.2,517.67 L1125.5,518.27 L1130.2,515.34 L1137.9,511.88 L1151.8,513.01 L1156.4,509.55 L1161.0,507.22 L1167.2,501.43 L1170.3,495.64 L1176.5,491.50 L1181.1,496.17 L1186.5,497.89 L1192.7,495.64 L1196.6,482.86 L1202.7,473.53 L1207.4,469.47 L1212.0,470.60 L1216.6,480.53 L1221.3,486.32 L1225.9,489.77 L1232.1,493.83 L1239.8,493.31 L1244.4,491.50 L1250.6,490.98 L1256.8,493.83 L1263.0,492.11 L1281.5,492.11 L1289.2,487.44 L1295.4,485.19 L1301.6,479.92 L1309.3,481.05 L1315.5,484.59 L1321.7,489.25 L1327.8,490.98 L1332.5,490.38 L1338.6,486.32 L1343.3,479.32 L1347.9,473.53 L1352.5,461.95 L1357.2,449.17 L1360.3,436.39 L1363.4,422.48 L1366.4,409.70 L1369.5,401.58 L1374.2,395.19 L1380.3,400.38 L1385.0,405.04 L1388.8,413.16 L1391.2,421.28 L1394.2,432.93 L1397.3,442.18 L1400.0,449.02 L1404.5,454.14 L1410.2,443.91 L1415.8,426.92 L1420.3,418.42 L1427.1,407.37 L1433.9,401.43 L1439.5,389.55 L1445.2,382.71 L1452.0,384.44 L1457.6,398.05 L1463.3,415.04 L1467.8,430.30 L1472.3,443.91 L1476.8,454.14 L1480.2,468.57 L1485.9,476.17 L1492.7,486.39 L1499.4,498.27 L1506.2,510.15 L1513.0,517.82 L1524.3,524.59 L1535.6,525.11 L1544.6,528.05 L1555.9,528.87 L1562.7,525.49 L1569.5,513.53 L1575.1,501.65 L1580.8,488.12 L1586.4,479.62 L1590.0,478.80 L1593.6,489.02 L1596.3,499.25 L1599.0,504.66 L1604.5,511.50 L1616.2,516.24 L1626.2,508.72 L1636.1,499.25 L1638.8,487.67 L1641.5,476.77 L1643.3,468.65 L1645.2,460.45 L1646.5,446.92 L1647.9,427.82 L1648.8,421.05 L1651.7,386.54 L1655.1,352.56 L1657.3,310.00 L1661.9,267.44 L1665.9,250.45 L1670.9,267.44 L1674.3,310.00 L1677.7,352.56 L1681.1,395.04 L1684.0,421.05 L1685.8,436.69 L1687.6,448.27 L1689.5,459.77 L1690.4,472.03 L1692.2,483.61 L1694.9,492.41 L1698.5,500.60 L1703.9,508.05 L1710.2,514.89 L1718.4,517.59 L1731.0,515.56 L1739.2,510.75 L1747.3,502.63 L1750.0,500.38 L1752.2,497.37 L1757.4,493.46 L1761.7,483.01 L1766.1,475.19 L1768.7,463.46 L1772.1,456.92 L1777.4,446.47 L1782.6,443.83 L1788.6,450.38 L1792.1,459.47 L1797.3,462.78 L1803.4,462.11 L1809.5,459.47 L1816.4,462.11 L1821.7,471.28 L1826.9,480.38 L1832.9,489.55 L1839.0,494.81 L1851.2,501.28 L1859.9,509.17 L1863.4,513.76 L1872.0,516.99 L1877.2,520.90 L1884.2,526.09 L1889.4,524.81 L1898.1,526.09 L1906.8,528.72 L1913.7,526.09 L1931.1,526.09 L1941.5,521.58 L1953.7,520.23 L1960.6,516.32 L1969.3,511.73 L1978.0,511.13 L1986.7,505.26 L1995.4,507.22 L2004.1,502.63 L2009.3,499.32 L2014.5,501.28 L2021.4,499.32 L2028.4,494.81 L2035.3,496.09 L2045.8,499.32 L2052.7,502.63 L2059.7,505.86 L2070.1,507.82 L2077.0,513.76 L2084.0,516.99 L2094.4,516.99" stroke="#DF7F00"/>
</g>
<rect x="179.29999999999998" y="53.7" width="1921.0499999999997" height="6.8" fill="#000"/>
<rect x="179.29999999999998" y="1675.45" width="1921.0499999999997" height="6.9" fill="#000"/>
<rect x="179.29999999999998" y="53.7" width="5.3" height="1662.6000000000001" fill="#000"/>
<rect x="2095.0499999999997" y="53.7" width="5.3" height="1662.6000000000001" fill="#000"/>
<rect x="316.2" y="1678.9" width="5.2" height="21.2" fill="#000"/>
<rect x="453.1" y="1678.9" width="5.2" height="37.4" fill="#000"/>
<rect x="589.9" y="1678.9" width="5.2" height="21.2" fill="#000"/>
<rect x="726.8" y="1678.9" width="5.2" height="37.4" fill="#000"/>
<rect x="863.6" y="1678.9" width="5.2" height="21.2" fill="#000"/>
<rect x="1000.5" y="1678.9" width="5.2" height="37.4" fill="#000"/>
<rect x="1137.3" y="1678.9" width="5.2" height="21.2" fill="#000"/>
<rect x="1274.1" y="1678.9" width="5.2" height="37.4" fill="#000"/>
<rect x="1411.0" y="1678.9" width="5.2" height="21.2" fill="#000"/>
<rect x="1547.8" y="1678.9" width="5.2" height="37.4" fill="#000"/>
<rect x="1684.7" y="1678.9" width="5.2" height="21.2" fill="#000"/>
<rect x="1821.5" y="1678.9" width="5.2" height="37.4" fill="#000"/>
<rect x="1958.4" y="1678.9" width="5.2" height="21.2" fill="#000"/>
<text transform="translate(182.0,1784) scale(1,1.055)" font-size="59.5" text-anchor="middle">400</text>
<text transform="translate(455.7,1784) scale(1,1.055)" font-size="59.5" text-anchor="middle">600</text>
<text transform="translate(729.4,1784) scale(1,1.055)" font-size="59.5" text-anchor="middle">800</text>
<text transform="translate(1003.1,1784) scale(1,1.055)" font-size="59.5" text-anchor="middle">1000</text>
<text transform="translate(1276.7,1784) scale(1,1.055)" font-size="59.5" text-anchor="middle">1200</text>
<text transform="translate(1550.4,1784) scale(1,1.055)" font-size="59.5" text-anchor="middle">1400</text>
<text transform="translate(1824.1,1784) scale(1,1.055)" font-size="59.5" text-anchor="middle">1600</text>
<text transform="translate(2097.8,1784) scale(1,1.055)" font-size="59.5" text-anchor="middle">1800</text>
<text transform="translate(824.5,1882.2) scale(1,1.083)" font-size="71.5" font-weight="bold">Raman shift (cm</text>
<text transform="translate(1378.5,1838.3) scale(1,1.04)" font-size="44" font-weight="bold">&#8722;</text>
<text transform="translate(1408.2,1838.3) scale(1,1.04)" font-size="44" font-weight="bold">1</text>
<text transform="translate(1434.4,1882.2) scale(1,1.083)" font-size="71.5" font-weight="bold">)</text>
<text transform="translate(135.2,1163.4) rotate(-90) scale(1,1.025)" font-size="78.4" font-weight="bold">Raman Intensity</text>
<rect x="330" y="104.3" width="26.5" height="219.5" fill="#000"/>
<text transform="translate(308.5,328.2) rotate(-90) scale(1,1.078)" font-size="64.3">150 cps</text>
<text transform="translate(453.0,535.9) rotate(-90) scale(1,1.015)" font-size="58">598</text>
<text transform="translate(527.0,534.4) rotate(-90) scale(1,1.015)" font-size="58">639</text>
<text transform="translate(772.3,640.9) rotate(-90) scale(1,1.015)" font-size="58">811</text>
<text transform="translate(974.0,671.2) rotate(-90) scale(1,1.015)" font-size="58">951</text>
<text transform="translate(1177.0,644.8) rotate(-90) scale(1,1.015)" font-size="58">1129</text>
<text transform="translate(1225.0,617.8) rotate(-90) scale(1,1.015)" font-size="58">1148</text>
<text transform="translate(1316.8,635.6) rotate(-90) scale(1,1.015)" font-size="58">1207</text>
<text transform="translate(1392.5,508.2) rotate(-90) scale(1,1.015)" font-size="58">1284</text>
<text transform="translate(1463.6,493.4) rotate(-90) scale(1,1.015)" font-size="58">1333</text>
<text transform="translate(1604.0,630.1) rotate(-90) scale(1,1.015)" font-size="58">1431</text>
<text transform="translate(1687.4,215.0) rotate(-90) scale(1,1.015)" font-size="58">1490</text>
<text transform="translate(1789.4,590.0) rotate(-90) scale(1,1.015)" font-size="58">1584</text>
<text transform="translate(1845.0,605.7) rotate(-90) scale(1,1.015)" font-size="58">1599</text>
<text transform="translate(2100.5,661.1) scale(1,1.04)" font-size="72.5" font-weight="bold" fill="#DF7F00">(g)</text>
<text transform="translate(2103.9,867.1) scale(1,1.04)" font-size="72.5" font-weight="bold" fill="#FF00FF">(f)</text>
<text transform="translate(2104.5,1054.7) scale(1,1.04)" font-size="72.5" font-weight="bold" fill="#00FFFF">(e)</text>
<text transform="translate(2100.5,1172.0) scale(1,1.04)" font-size="72.5" font-weight="bold" fill="#0000FF">(d)</text>
<text transform="translate(2105.1,1317.8) scale(1,1.04)" font-size="72.5" font-weight="bold" fill="#00FF00">(c)</text>
<text transform="translate(2102.5,1416.5) scale(1,1.04)" font-size="72.5" font-weight="bold" fill="#FF0000">(b)</text>
<text transform="translate(2102.5,1678.9) scale(1,1.04)" font-size="72.5" font-weight="bold" fill="#000000">(a)</text>
</svg></body></html>
